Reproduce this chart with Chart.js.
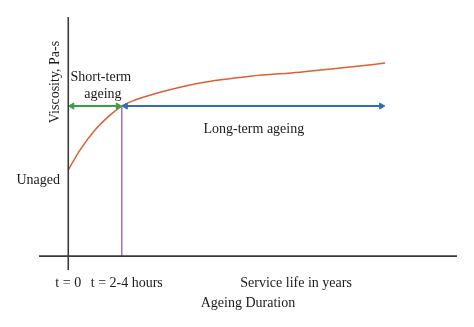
<!DOCTYPE html>
<html><head><meta charset="utf-8">
<script src="https://cdn.jsdelivr.net/npm/chart.js@4/dist/chart.umd.min.js"></script>
<style>html,body{margin:0;padding:0;background:#fff}#wrap{width:474px;height:327px}</style>
</head><body><div id="wrap"><canvas id="c" width="474" height="327"></canvas></div>
<script>
// Ageing duration (arbitrary units, t=0 at 0) and viscosity (arbitrary units)
const curveX = [0, 2.8, 6.4, 10, 12.8, 16, 19.5, 31.5, 43.5, 55.4, 67.4, 75.8];
const curveY = [34.0, 41.9, 49.8, 55.7, 59.3, 61.7, 63.6, 68.4, 71.1, 72.7, 74.7, 76.3];
const shortTermEnd = 12.8;     // t = 2-4 hours
const serviceEnd = 75.8;
const arrowLevel = 59.3;
const xRange = [-7, 93];
const yRange = [-5.5, 94.5];
const tickLabels = ["t = 0", "t = 2-4 hours", "Service life in years"];
const tickValues = [0, 14.0, 54.5];
const xTitle = "Ageing Duration";
const yTitle = "Viscosity, Pa-s";
const annotTexts = ["Short-term", "ageing", "Long-term ageing", "Unaged"];

const FONT = '"Liberation Serif", "DejaVu Serif", serif';
const textPlugin = {
  id: 'texts',
  afterDraw(chart) {
    const {ctx, scales: {x, y}} = chart;
    ctx.save();
    ctx.fillStyle = '#1a1a1a';
    ctx.font = '14px ' + FONT;
    ctx.textAlign = 'center';
    ctx.textBaseline = 'middle';
    const put = (t, vx, vy) => ctx.fillText(t, x.getPixelForValue(vx), y.getPixelForValue(vy));
    tickLabels.forEach((t, i) => put(t, tickValues[i], -10.7));
    put(xTitle, 43.0, -18.6);
    put(annotTexts[0], 7.8, 70.8);
    put(annotTexts[1], 8.3, 64.0);
    put(annotTexts[2], 44.4, 50.2);
    put(annotTexts[3], -7.2, 30.0);
    ctx.translate(x.getPixelForValue(-3.2), y.getPixelForValue(68.8));
    ctx.rotate(-Math.PI / 2);
    ctx.fillText(yTitle, 0, 0);
    ctx.restore();
  }
};

new Chart(document.getElementById('c'), {
  type: 'line',
  data: {
    datasets: [
      { // x axis line
        data: [{x: xRange[0], y: 0}, {x: xRange[1], y: 0}],
        borderColor: '#3a3a3a', borderWidth: 1.6, pointRadius: 0
      },
      { // y axis line
        data: [{x: 0, y: yRange[0]}, {x: 0, y: yRange[1]}],
        borderColor: '#3a3a3a', borderWidth: 1.6, pointRadius: 0
      },
      { // purple marker
        data: [{x: shortTermEnd, y: 0}, {x: shortTermEnd, y: arrowLevel}],
        borderColor: '#9a72c2', borderWidth: 1.5, pointRadius: 0
      },
      { // green short-term arrow
        data: [{x: 0.9, y: arrowLevel}, {x: shortTermEnd - 0.9, y: arrowLevel}],
        borderColor: '#3a9e45', backgroundColor: '#3a9e45', borderWidth: 2,
        pointStyle: 'triangle', pointRadius: 3.5, pointRotation: [270, 90], pointBorderWidth: 1
      },
      { // blue long-term arrow
        data: [{x: shortTermEnd + 0.9, y: arrowLevel}, {x: serviceEnd - 0.9, y: arrowLevel}],
        borderColor: '#2f6db5', backgroundColor: '#2f6db5', borderWidth: 2,
        pointStyle: 'triangle', pointRadius: 3.5, pointRotation: [270, 90], pointBorderWidth: 1
      },
      { // viscosity curve
        data: curveX.map((v, i) => ({x: v, y: curveY[i]})),
        borderColor: '#dc5f35', borderWidth: 1.5, pointRadius: 0,
        cubicInterpolationMode: 'monotone'
      }
    ]
  },
  options: {
    responsive: false, animation: false,
    layout: {padding: {left: 39, right: 17, top: 17, bottom: 57}},
    plugins: {legend: {display: false}, tooltip: {enabled: false}},
    scales: {
      x: {type: 'linear', min: xRange[0], max: xRange[1], display: false},
      y: {type: 'linear', min: yRange[0], max: yRange[1], display: false}
    },
    clip: false
  },
  plugins: [textPlugin]
});
</script></body></html>
